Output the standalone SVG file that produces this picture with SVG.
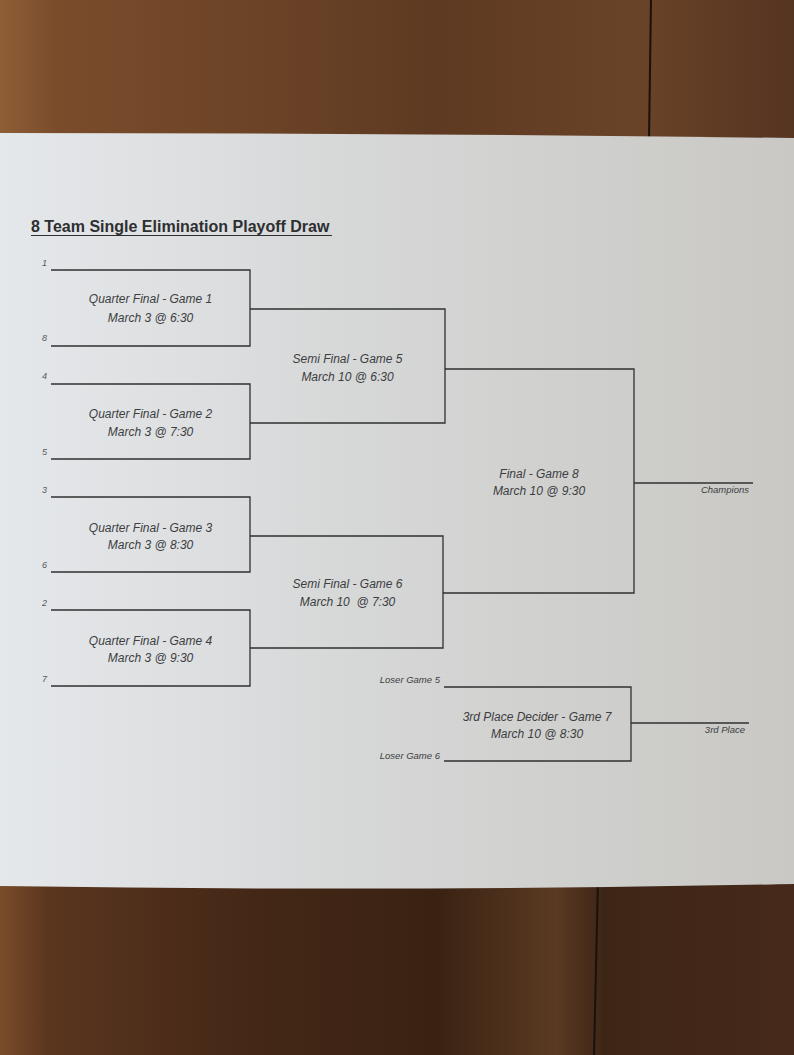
<svg xmlns="http://www.w3.org/2000/svg" width="794" height="1055" viewBox="0 0 794 1055">
<defs>
<linearGradient id="woodTop" x1="0" y1="0" x2="1" y2="0">
<stop offset="0" stop-color="#8e5e36"/>
<stop offset="0.07" stop-color="#7a4c2b"/>
<stop offset="0.3" stop-color="#6d4427"/>
<stop offset="0.55" stop-color="#5e3a22"/>
<stop offset="0.8" stop-color="#6a4327"/>
<stop offset="1" stop-color="#553421"/>
</linearGradient>
<linearGradient id="woodBot" x1="0" y1="0" x2="1" y2="0">
<stop offset="0" stop-color="#7a4c2a"/>
<stop offset="0.06" stop-color="#5a361f"/>
<stop offset="0.3" stop-color="#452817"/>
<stop offset="0.55" stop-color="#3a2213"/>
<stop offset="0.7" stop-color="#5a3a22"/>
<stop offset="0.76" stop-color="#3e2616"/>
<stop offset="1" stop-color="#46291a"/>
</linearGradient>
<linearGradient id="paper" x1="0" y1="0" x2="1" y2="0">
<stop offset="0" stop-color="#e5e8eb"/>
<stop offset="0.45" stop-color="#d6d7d7"/>
<stop offset="1" stop-color="#c9c8c4"/>
</linearGradient>
<style>
.ln{stroke:#2f3031;stroke-width:1.3;fill:none}
.t{font-family:"Liberation Sans",Arial,sans-serif;font-style:italic;font-size:12px;fill:#3c3d3f;text-anchor:middle}
.s{font-family:"Liberation Sans",Arial,sans-serif;font-style:italic;font-size:9.5px;fill:#3c3d3f}
.n{font-family:"Liberation Sans",Arial,sans-serif;font-style:italic;font-size:9px;fill:#55575a;text-anchor:end}
.title{font-family:"Liberation Sans",Arial,sans-serif;font-weight:bold;font-size:16px;fill:#2e2f31}
</style>
</defs>
<rect x="0" y="0" width="794" height="140" fill="url(#woodTop)"/>
<rect x="0" y="880" width="794" height="175" fill="url(#woodBot)"/>
<line x1="651" y1="0" x2="649" y2="140" stroke="#1c100a" stroke-width="2"/>
<line x1="598" y1="880" x2="594" y2="1055" stroke="#1c100a" stroke-width="2"/>
<path d="M0,133 Q400,133 794,138 L794,884 Q400,892 0,886 Z" fill="url(#paper)"/>

<g id="title">
<text class="title" x="31" y="232">8 Team Single Elimination Playoff Draw</text>
<line x1="31" y1="235.5" x2="332" y2="235.5" stroke="#2e2f31" stroke-width="1.2"/>
</g>

<g id="connectors">
<path class="ln" d="M51,270 H250 V346 H51"/>
<path class="ln" d="M51,384 H250 V459 H51"/>
<path class="ln" d="M51,497 H250 V572 H51"/>
<path class="ln" d="M51,610 H250 V686 H51"/>
<path class="ln" d="M250,309 H445 V423 H250"/>
<path class="ln" d="M250,536 H443 V648 H250"/>
<path class="ln" d="M445,369 H634 V593 H443"/>
<path class="ln" d="M634,483 H753"/>
<path class="ln" d="M444,687 H631 V761 H444"/>
<path class="ln" d="M631,723 H749"/>
</g>

<g id="qf1">
<text class="n" x="47" y="266">1</text>
<text class="n" x="47" y="341">8</text>
<text class="t" x="150.5" y="303">Quarter Final - Game 1</text>
<text class="t" x="150.5" y="322">March 3 @ 6:30</text>
</g>
<g id="qf2">
<text class="n" x="47" y="379">4</text>
<text class="n" x="47" y="455">5</text>
<text class="t" x="150.5" y="418">Quarter Final - Game 2</text>
<text class="t" x="150.5" y="436">March 3 @ 7:30</text>
</g>
<g id="qf3">
<text class="n" x="47" y="493">3</text>
<text class="n" x="47" y="568">6</text>
<text class="t" x="150.5" y="532">Quarter Final - Game 3</text>
<text class="t" x="150.5" y="549">March 3 @ 8:30</text>
</g>
<g id="qf4">
<text class="n" x="47" y="606">2</text>
<text class="n" x="47" y="682">7</text>
<text class="t" x="150.5" y="645">Quarter Final - Game 4</text>
<text class="t" x="150.5" y="662">March 3 @ 9:30</text>
</g>
<g id="sf5">
<text class="t" x="347.5" y="363">Semi Final - Game 5</text>
<text class="t" x="347.5" y="381">March 10 @ 6:30</text>
</g>
<g id="sf6">
<text class="t" x="347.5" y="588">Semi Final - Game 6</text>
<text class="t" x="347.5" y="606" xml:space="preserve">March 10  @ 7:30</text>
</g>
<g id="final">
<text class="t" x="539" y="478">Final - Game 8</text>
<text class="t" x="539" y="495">March 10 @ 9:30</text>
<text class="s" x="749" y="493" text-anchor="end">Champions</text>
</g>
<g id="third">
<text class="s" x="440" y="683" text-anchor="end">Loser Game 5</text>
<text class="s" x="440" y="759" text-anchor="end">Loser Game 6</text>
<text class="t" x="537" y="721">3rd Place Decider - Game 7</text>
<text class="t" x="537" y="738">March 10 @ 8:30</text>
<text class="s" x="745" y="733" text-anchor="end">3rd Place</text>
</g>
</svg>
